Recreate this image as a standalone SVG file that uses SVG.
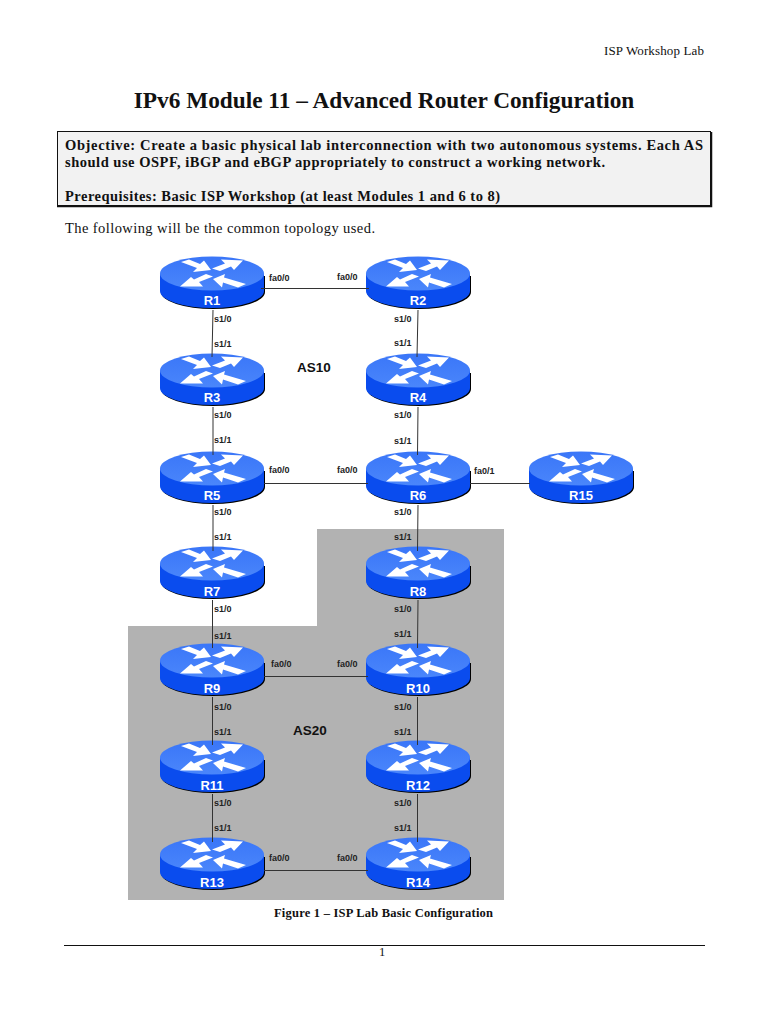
<svg xmlns="http://www.w3.org/2000/svg" width="768" height="1024" viewBox="0 0 768 1024">
<style>
.serif{font-family:"Liberation Serif","Times New Roman",serif;fill:#111}
.b{font-weight:bold}
.port{font-family:"Liberation Sans",Arial,sans-serif;font-size:9px;font-weight:bold;fill:#222}
.name{font-family:"Liberation Sans",Arial,sans-serif;font-size:13px;font-weight:bold;fill:#fff;text-anchor:middle}
.as{font-family:"Liberation Sans",Arial,sans-serif;font-size:13.5px;font-weight:bold;fill:#111}
.link{stroke:#333;stroke-width:1;fill:none}
</style>
<defs>
<linearGradient id="top" x1="0" y1="0" x2="0" y2="1"><stop offset="0" stop-color="#3a76f8"/><stop offset="1" stop-color="#4a86fb"/></linearGradient>
<g id="router">
<path d="M-51,3 V19 A52,17 0 0 0 53,19 V3 Z" fill="#000"/>
<path d="M-52,1 V18 A52,17 0 0 0 52,18 V1 Z" fill="#0a4cee"/>
<ellipse cx="0" cy="0.5" rx="52" ry="17" fill="url(#top)"/>
<g fill="#fff">
<polygon points="-31,-11 -23,-13.5 -12,-9 -8,-12.5 -1,-3 -19,-1 -15,-5"/>
<polygon points="31,-12.5 9,-13.5 13,-9.5 0,-4.5 8,-2 19,-6.5 22,-3"/>
<polygon points="-32,13.5 -21,4 -18,6.5 -6,1 1,3.5 -13,9 -9,13.5"/>
<polygon points="1,6 13,1 12,4.5 34,11 26,14.5 11,9.5 10,14.5"/>
</g>
</g>
</defs>
<rect width="768" height="1024" fill="#fff"/>

<g id="page">
<text class="serif" x="704" y="55" font-size="13" text-anchor="end" textLength="100">ISP Workshop Lab</text>
<text class="serif b" x="384" y="108" font-size="23.3" text-anchor="middle">IPv6 Module 11 – Advanced Router Configuration</text>
<rect x="57.5" y="131.5" width="653" height="74" fill="#f2f2f2" stroke="#111"/>
<path d="M57,206.5 H711.5 V132" fill="none" stroke="#111" stroke-width="1.5"/>
<text class="serif b" x="65" y="150" font-size="14.5" textLength="638">Objective: Create a basic physical lab interconnection with two autonomous systems. Each AS</text>
<text class="serif b" x="65" y="167" font-size="14.5" textLength="540">should use OSPF, iBGP and eBGP appropriately to construct a working network.</text>
<text class="serif b" x="65" y="201" font-size="14.5" textLength="435">Prerequisites: Basic ISP Workshop (at least Modules 1 and 6 to 8)</text>
<text class="serif" x="65" y="233" font-size="14.5" textLength="310">The following will be the common topology used.</text>
<text class="serif b" x="274" y="917" font-size="12.5" textLength="219">Figure 1 – ISP Lab Basic Configuration</text>
<line x1="64" y1="945.5" x2="705" y2="945.5" stroke="#111"/>
<text class="serif" x="382" y="956" font-size="12.5" text-anchor="middle">1</text>
</g>

<polygon id="as20-area" points="317,529 504,529 504,900 128,900 128,626 317,626" fill="#b2b2b2"/>

<g id="r1"><use href="#router" x="212" y="273"/><text class="name" x="212" y="305">R1</text></g>
<g id="r2"><use href="#router" x="418" y="273"/><text class="name" x="418" y="305">R2</text></g>
<g id="r3"><use href="#router" x="212" y="370"/><text class="name" x="212" y="402">R3</text></g>
<g id="r4"><use href="#router" x="418" y="370"/><text class="name" x="418" y="402">R4</text></g>
<g id="r5"><use href="#router" x="212" y="468"/><text class="name" x="212" y="500">R5</text></g>
<g id="r6"><use href="#router" x="418" y="468"/><text class="name" x="418" y="500">R6</text></g>
<g id="r7"><use href="#router" x="212" y="563"/><text class="name" x="212" y="596">R7</text></g>
<g id="r8"><use href="#router" x="418" y="563"/><text class="name" x="418" y="596">R8</text></g>
<g id="r9"><use href="#router" x="212" y="660"/><text class="name" x="212" y="693">R9</text></g>
<g id="r10"><use href="#router" x="418" y="660"/><text class="name" x="418" y="693">R10</text></g>
<g id="r11"><use href="#router" x="212" y="757"/><text class="name" x="212" y="790">R11</text></g>
<g id="r12"><use href="#router" x="418" y="757"/><text class="name" x="418" y="790">R12</text></g>
<g id="r13"><use href="#router" x="212" y="854"/><text class="name" x="212" y="887">R13</text></g>
<g id="r14"><use href="#router" x="418" y="854"/><text class="name" x="418" y="887">R14</text></g>
<g id="r15"><use href="#router" x="581" y="468"/><text class="name" x="581" y="500">R15</text></g>

<g id="connectors">
<line class="link" x1="261" y1="288.5" x2="369" y2="288.5"/>
<line class="link" x1="264" y1="483.5" x2="368" y2="483.5"/>
<line class="link" x1="470" y1="483.5" x2="530" y2="483.5"/>
<line class="link" x1="264" y1="676.5" x2="368" y2="676.5"/>
<line class="link" x1="264" y1="870.5" x2="368" y2="870.5"/>
<line class="link" x1="213" y1="310" x2="212" y2="357"/>
<line class="link" x1="213" y1="407" x2="213" y2="455"/>
<line class="link" x1="213" y1="505" x2="213" y2="551"/>
<line class="link" x1="212.5" y1="600" x2="212.5" y2="648"/>
<line class="link" x1="212.5" y1="697" x2="212.5" y2="745"/>
<line class="link" x1="212.5" y1="794" x2="212.5" y2="842"/>
<line class="link" x1="418" y1="310" x2="417" y2="357"/>
<line class="link" x1="418" y1="407" x2="417.5" y2="455"/>
<line class="link" x1="418" y1="505" x2="417.5" y2="551"/>
<line class="link" x1="418" y1="600" x2="417.5" y2="648"/>
<line class="link" x1="417.5" y1="697" x2="417.5" y2="745"/>
<line class="link" x1="417.5" y1="794" x2="417.5" y2="842"/>
</g>

<g id="labels">
<text class="as" x="297" y="372">AS10</text>
<text class="as" x="293" y="735">AS20</text>
<text class="port" x="269" y="281">fa0/0</text><text class="port" x="337" y="280">fa0/0</text>
<text class="port" x="269" y="473">fa0/0</text><text class="port" x="337" y="473">fa0/0</text>
<text class="port" x="474" y="474">fa0/1</text>
<text class="port" x="271" y="667">fa0/0</text><text class="port" x="337" y="667">fa0/0</text>
<text class="port" x="269" y="861">fa0/0</text><text class="port" x="337" y="861">fa0/0</text>
<text class="port" x="214" y="322">s1/0</text><text class="port" x="214" y="347">s1/1</text>
<text class="port" x="214" y="418">s1/0</text><text class="port" x="214" y="443">s1/1</text>
<text class="port" x="214" y="515">s1/0</text><text class="port" x="214" y="540">s1/1</text>
<text class="port" x="214" y="612">s1/0</text><text class="port" x="214" y="639">s1/1</text>
<text class="port" x="214" y="710">s1/0</text><text class="port" x="214" y="735">s1/1</text>
<text class="port" x="214" y="806">s1/0</text><text class="port" x="214" y="831">s1/1</text>
<text class="port" x="394" y="322">s1/0</text><text class="port" x="394" y="346">s1/1</text>
<text class="port" x="394" y="418">s1/0</text><text class="port" x="394" y="444">s1/1</text>
<text class="port" x="394" y="515">s1/0</text><text class="port" x="394" y="540">s1/1</text>
<text class="port" x="394" y="612">s1/0</text><text class="port" x="394" y="637">s1/1</text>
<text class="port" x="394" y="710">s1/0</text><text class="port" x="394" y="735">s1/1</text>
<text class="port" x="394" y="806">s1/0</text><text class="port" x="394" y="831">s1/1</text>
</g>
</svg>
